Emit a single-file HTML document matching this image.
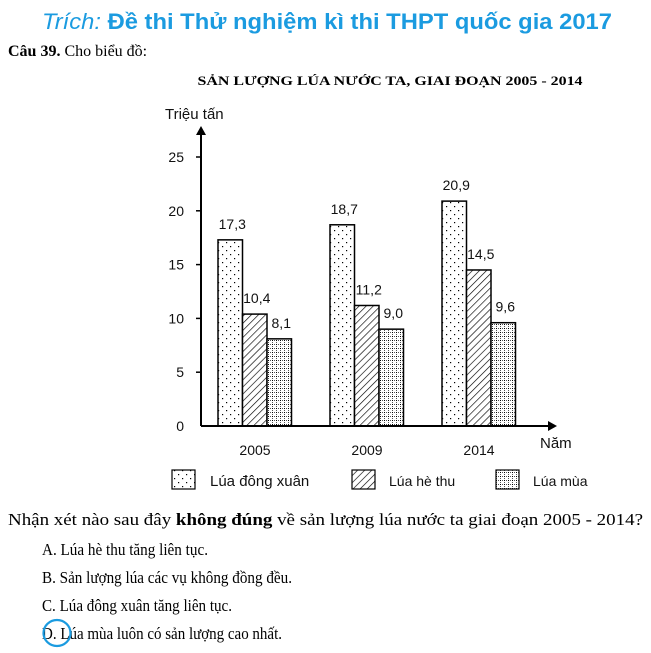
<!DOCTYPE html>
<html><head><meta charset="utf-8">
<style>
html,body{margin:0;padding:0;background:#fff;width:651px;height:653px;overflow:hidden}
svg{display:block}
.serif{font-family:"Liberation Serif","DejaVu Serif",serif}
.sans{font-family:"Liberation Sans","DejaVu Sans",sans-serif}
</style></head>
<body>
<svg id="svg" width="651" height="653" viewBox="0 0 651 653" xmlns="http://www.w3.org/2000/svg">
<defs>
<pattern id="dots" width="8" height="8" patternUnits="userSpaceOnUse"><rect width="8" height="8" fill="#fff"/><rect x="2" y="2" width="1.2" height="1.2" fill="#000"/><rect x="6" y="6" width="1.2" height="1.2" fill="#000"/></pattern>
<pattern id="hatch" width="5" height="5" patternUnits="userSpaceOnUse" patternTransform="rotate(45)"><rect width="5" height="5" fill="#fff"/><line x1="0" y1="0" x2="0" y2="5" stroke="#000" stroke-width="1.3"/></pattern>
<pattern id="grid" width="4" height="4" patternUnits="userSpaceOnUse"><rect width="4" height="4" fill="#fff"/><rect x="0" y="0" width="1" height="1" fill="#000"/><rect x="2" y="0" width="1" height="1" fill="#555"/><rect x="0" y="2" width="1" height="1" fill="#555"/></pattern>
</defs>
<text class="sans" x="327" y="29" text-anchor="middle" font-size="22" fill="#1b9be0" textLength="570" lengthAdjust="spacingAndGlyphs"><tspan font-style="italic">Trích:</tspan><tspan font-weight="bold"> Đề thi Thử nghiệm kì thi THPT quốc gia 2017</tspan></text>
<text class="serif" x="8" y="56" font-size="16"><tspan font-weight="bold">Câu 39.</tspan> Cho biểu đồ:</text>
<text class="serif" x="390" y="85" text-anchor="middle" font-size="13" font-weight="bold" textLength="385" lengthAdjust="spacingAndGlyphs">SẢN LƯỢNG LÚA NƯỚC TA, GIAI ĐOẠN 2005 - 2014</text>
<g id="chart"></g>
<text class="serif" x="8" y="525" font-size="16.5" textLength="635" lengthAdjust="spacingAndGlyphs">Nhận xét nào sau đây <tspan font-weight="bold">không đúng</tspan> về sản lượng lúa nước ta giai đoạn 2005 - 2014?</text>
<text class="serif" x="42" y="555" font-size="17" textLength="166" lengthAdjust="spacingAndGlyphs">A. Lúa hè thu tăng liên tục.</text>
<text class="serif" x="42" y="583" font-size="17" textLength="250" lengthAdjust="spacingAndGlyphs">B. Sản lượng lúa các vụ không đồng đều.</text>
<text class="serif" x="42" y="611" font-size="17" textLength="190" lengthAdjust="spacingAndGlyphs">C. Lúa đông xuân tăng liên tục.</text>
<text class="serif" x="42" y="639" font-size="17" textLength="240" lengthAdjust="spacingAndGlyphs">D. Lúa mùa luôn có sản lượng cao nhất.</text>
<ellipse cx="57" cy="633" rx="13.5" ry="13" fill="none" stroke="#1b9be0" stroke-width="2.2"/>
</svg>
<script>
const categories = ["2005","2009","2014"];
const dongXuan = [17.3, 18.7, 20.9];
const heThu = [10.4, 11.2, 14.5];
const luaMua = [8.1, 9.0, 9.6];
const dongXuanLabels = ["17,3","18,7","20,9"];
const heThuLabels = ["10,4","11,2","14,5"];
const luaMuaLabels = ["8,1","9,0","9,6"];
const yTicks = [0,5,10,15,20,25];

const NS="http://www.w3.org/2000/svg";
const g=document.getElementById('chart');
const x0=201, y0=426, pxPerUnit=10.76;
const y=v=>y0-v*pxPerUnit;
const groupX=i=>218+i*112;
const barW=24.5;
function mk(tag,attrs,parent){const e=document.createElementNS(NS,tag);for(const k in attrs)e.setAttribute(k,attrs[k]);(parent||g).appendChild(e);return e;}
function txt(x,yy,s,anchor,size){const t=mk('text',{x:x,y:yy,'text-anchor':anchor,'font-size':size,'font-family':'"Liberation Sans","DejaVu Sans",sans-serif',fill:'#111'});t.textContent=s;return t;}

const series=[{v:dongXuan,l:dongXuanLabels,f:'url(#dots)',n:'dong-xuan'},{v:heThu,l:heThuLabels,f:'url(#hatch)',n:'he-thu'},{v:luaMua,l:luaMuaLabels,f:'url(#grid)',n:'lua-mua'}];
series.forEach((s,si)=>{
  s.v.forEach((v,i)=>{
    const bx=groupX(i)+si*barW;
    const r=mk('rect',{x:bx,y:y(v),width:barW,height:y0-y(v),fill:s.f,stroke:'#000','stroke-width':1.5});
    
    
    const t=txt(bx+barW/2+2,y(v)-11,s.l[i],'middle',14);
    
    
  });
});
const ya=mk('line',{x1:x0,y1:y0,x2:x0,y2:133,stroke:'#000','stroke-width':2});


const yarr=mk('polygon',{points:`${x0-5},135 ${x0+5},135 ${x0},126`,fill:'#000'});


const xa=mk('line',{x1:x0,y1:y0,x2:550,y2:y0,stroke:'#000','stroke-width':2});


const xarr=mk('polygon',{points:`548,${y0-5} 548,${y0+5} 557,${y0}`,fill:'#000'});


yTicks.forEach(v=>{
  if(v>0){const tk=mk('line',{x1:x0-5,y1:y(v),x2:x0,y2:y(v),stroke:'#000','stroke-width':1.5});
  
  }
  const t=txt(x0-17,y(v)+5,String(v),'end',14);
  
  
});
categories.forEach((c,i)=>{
  const t=txt(groupX(i)+37,455,c,'middle',14);
  
  
});
const yt=txt(165,119,'Triệu tấn','start',15);


const xt=txt(540,448,'Năm','start',15);


const leg=[{x:172,f:'url(#dots)',t:'Lúa đông xuân',tx:210,s:15},{x:352,f:'url(#hatch)',t:'Lúa hè thu',tx:389,s:14},{x:496,f:'url(#grid)',t:'Lúa mùa',tx:533,s:14}];
leg.forEach((L,i)=>{
  const r=mk('rect',{x:L.x,y:470,width:23,height:19,fill:L.f,stroke:'#000','stroke-width':1.2});
  
  
  const t=txt(L.tx,486,L.t,'start',L.s);
  
  
});
</script>
</body></html>
